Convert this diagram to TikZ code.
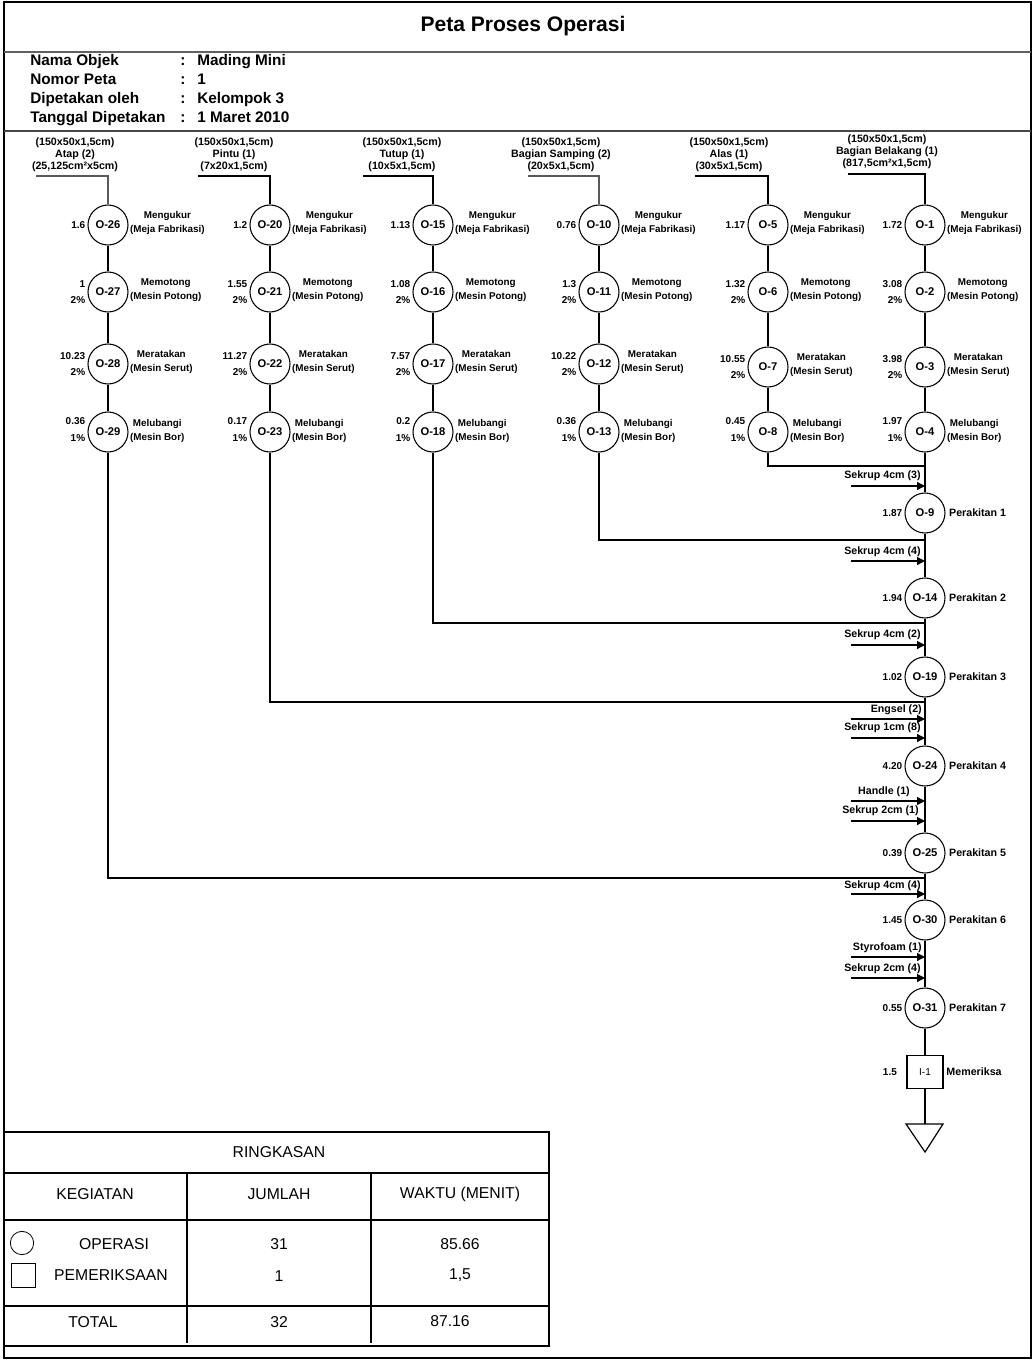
\documentclass[tikz,border=0pt]{standalone}
\usepackage{fontspec}
\setmainfont{Liberation Sans}
\usetikzlibrary{arrows.meta}
\begin{document}
\begin{tikzpicture}[x=0.75pt,y=-0.75pt,
  ln/.style={line width=0.9pt},
  op/.style={circle,draw,line width=0.8pt,minimum size=30pt,inner sep=0pt,font=\fontsize{8.4}{9}\selectfont\bfseries},
  insp/.style={rectangle,draw,line width=0.8pt,minimum width=27pt,minimum height=25pt,inner sep=0pt,font=\fontsize{7.5}{9}\selectfont},
  oplbl/.style={font=\fontsize{7.4}{10.5}\selectfont\bfseries,align=center,inner sep=0pt,anchor=west},
  num/.style={font=\fontsize{7.5}{12.5}\selectfont\bfseries,align=right,inner sep=0pt,anchor=east},
  toplbl/.style={font=\fontsize{8}{9}\selectfont\bfseries,align=center,inner sep=0pt},
  feedlbl/.style={font=\fontsize{8}{9}\selectfont\bfseries,inner sep=0pt,anchor=east},
  asmlbl/.style={font=\fontsize{8}{9}\selectfont\bfseries,inner sep=0pt,anchor=west},
  feed/.style={line width=0.9pt,-{Triangle[length=6pt,width=6pt]}},
  hdr/.style={font=\fontsize{11.5}{13}\selectfont\bfseries,inner sep=0pt,anchor=base west},
  tbltxt/.style={font=\fontsize{11.8}{13}\selectfont,inner sep=0pt},
  tbl/.style={line width=0.8pt}
]
\useasboundingbox (0,0) rectangle (1033,1360);
% frame
\draw[line width=1.5pt] (4,2) rectangle (1031,1358);
\draw[line width=1.6pt,gray!75!black] (4,52) -- (1031,52);
\draw[line width=1.4pt,gray!55!black] (4,131) -- (1031,131);
\node[font=\fontsize{15.8}{18}\selectfont\bfseries] (title) at (523,26) {Peta Proses Operasi};
% header
\node[hdr] (h1) at (30,65.5) {Nama Objek};
\node[hdr] (h2) at (30,84.5) {Nomor Peta};
\node[hdr] (h3) at (30,103.5) {Dipetakan oleh};
\node[hdr] (h4) at (30,122.5) {Tanggal Dipetakan};
\node[hdr] (c1) at (180,65.5) {:};
\node[hdr] (c2) at (180,84.5) {:};
\node[hdr] (c3) at (180,103.5) {:};
\node[hdr] (c4) at (180,122.5) {:};
\node[hdr] (v1) at (197,65.5) {Mading Mini};
\node[hdr] (v2) at (197,84.5) {1};
\node[hdr] (v3) at (197,103.5) {Kelompok 3};
\node[hdr] (v4) at (197,122.5) {1 Maret 2010};
% columns
\foreach \X/\p/\q/\r/\s/\tp/\tq/\tr/\ts/\yr in {
 108/26/27/28/29/1.6/1/10.23/0.36/364,
 270/20/21/22/23/1.2/1.55/11.27/0.17/364,
 433/15/16/17/18/1.13/1.08/7.57/0.2/364,
 599/10/11/12/13/0.76/1.3/10.22/0.36/364,
 768/5/6/7/8/1.17/1.32/10.55/0.45/367,
 925/1/2/3/4/1.72/3.08/3.98/1.97/367}
{
 \node[op] (O\p) at (\X,225) {O-\p};
 \node[op] (O\q) at (\X,292) {O-\q};
 \node[op] (O\r) at (\X,\yr) {O-\r};
 \node[op] (O\s) at (\X,432) {O-\s};
 \draw[ln] (O\p) -- (O\q) -- (O\r) -- (O\s);
 \node[num] (t\p) at ([xshift=-1.5pt]O\p.west) {\tp};
 \node[num] (t\q) at ([xshift=-1.5pt]O\q.west) {\tq\\2\%};
 \node[num] (t\r) at ([xshift=-1.5pt]O\r.west) {\tr\\2\%};
 \node[num] (t\s) at ([xshift=-1.5pt,yshift=2pt]O\s.west) {\ts\\1\%};
 \node[oplbl] (l\p) at ([xshift=1pt,yshift=1.2pt]O\p.east) {Mengukur\\(Meja Fabrikasi)};
 \node[oplbl] (l\q) at ([xshift=1pt,yshift=1.2pt]O\q.east) {Memotong\\(Mesin Potong)};
 \node[oplbl] (l\r) at ([xshift=1pt,yshift=1.5pt]O\r.east) {Meratakan\\(Mesin Serut)};
 \node[oplbl] (l\s) at ([xshift=1pt,yshift=0.6pt]O\s.east) {Melubangi\\(Mesin Bor)};
}
% material labels and input lines
\node[toplbl] (m1) at (75,155) {(150x50x1,5cm)\\Atap (2)\\(25,125cm²x5cm)};
\node[toplbl] (m2) at (234,155) {(150x50x1,5cm)\\Pintu (1)\\(7x20x1,5cm)};
\node[toplbl] (m3) at (402,155) {(150x50x1,5cm)\\Tutup (1)\\(10x5x1,5cm)};
\node[toplbl] (m4) at (561,155) {(150x50x1,5cm)\\Bagian Samping (2)\\(20x5x1,5cm)};
\node[toplbl] (m5) at (729,155) {(150x50x1,5cm)\\Alas (1)\\(30x5x1,5cm)};
\node[toplbl] (m6) at (887,152) {(150x50x1,5cm)\\Bagian Belakang (1)\\(817,5cm²x1,5cm)};
\coordinate (s1) at (36,176);  \coordinate (k1) at (108,176);
\coordinate (s2) at (198,176); \coordinate (k2) at (270,176);
\coordinate (s3) at (363,176); \coordinate (k3) at (433,176);
\coordinate (s4) at (528,176); \coordinate (k4) at (599,176);
\coordinate (s5) at (695,176); \coordinate (k5) at (768,176);
\coordinate (s6) at (848,174); \coordinate (k6) at (925,174);
\draw[ln,gray!70!black] (s1) -- (k1) -- (O26);
\draw[ln] (s2) -- (k2) -- (O20);
\draw[ln] (s3) -- (k3) -- (O15);
\draw[ln,gray!70!black] (s4) -- (k4) -- (O10);
\draw[ln] (s5) -- (k5) -- (O5);
\draw[ln] (s6) -- (k6) -- (O1);
% assembly line
\node[op] (O9) at (925,513) {O-9};
\node[op] (O14) at (925,598) {O-14};
\node[op] (O19) at (925,677) {O-19};
\node[op] (O24) at (925,766) {O-24};
\node[op] (O25) at (925,853) {O-25};
\node[op] (O30) at (925,920) {O-30};
\node[op] (O31) at (925,1008) {O-31};
\node[insp] (I1) at (925,1072) {I-1};
\coordinate (tri) at (925,1124);
\draw[ln] (O4) -- (O9) -- (O14) -- (O19) -- (O24) -- (O25) -- (O30) -- (O31) -- (I1) -- (tri);
\draw[ln] (906,1124) -- (943,1124) -- (925,1152) -- cycle;
\foreach \n/\v in {9/1.87,14/1.94,19/1.02,24/4.20,25/0.39,30/1.45,31/0.55}
  \node[num] (t\n) at ([xshift=-1.5pt]O\n.west) {\v};
\node[num] (t1i) at ([xshift=-7pt]I1.west) {1.5};
\node[asmlbl] (a9) at ([xshift=2.5pt]O9.east) {Perakitan 1};
\node[asmlbl] (a14) at ([xshift=2.5pt]O14.east) {Perakitan 2};
\node[asmlbl] (a19) at ([xshift=2.5pt]O19.east) {Perakitan 3};
\node[asmlbl] (a24) at ([xshift=2.5pt]O24.east) {Perakitan 4};
\node[asmlbl] (a25) at ([xshift=2.5pt]O25.east) {Perakitan 5};
\node[asmlbl] (a30) at ([xshift=2.5pt]O30.east) {Perakitan 6};
\node[asmlbl] (a31) at ([xshift=2.5pt]O31.east) {Perakitan 7};
\node[asmlbl] (aI) at ([xshift=2pt]I1.east) {Memeriksa};
% sub-assembly joins
\coordinate (j5) at (925,466);
\coordinate (j4) at (925,540);
\coordinate (j3) at (925,623);
\coordinate (j2) at (925,702);
\coordinate (j1) at (925,878);
\draw[ln] (O8) |- (j5);
\draw[ln] (O13) |- (j4);
\draw[ln] (O18) |- (j3);
\draw[ln] (O23) |- (j2);
\draw[ln] (O29) |- (j1);
% feed arrows
\foreach \i/\y/\ly/\lx/\txt in {
  1/486/476/921/Sekrup 4cm (3),
  2/561/552/921/Sekrup 4cm (4),
  3/645/635/921/Sekrup 4cm (2),
  4/719/710/922/Engsel (2),
  5/738/728/921/Sekrup 1cm (8),
  6/801/792/910/Handle (1),
  7/821/811/919/Sekrup 2cm (1),
  8/894/886/921/Sekrup 4cm (4),
  9/957/948/922/Styrofoam (1),
  10/978/969/921/Sekrup 2cm (4)}
{
  \coordinate (f\i) at (851,\y);
  \coordinate (e\i) at (925,\y);
  \draw[feed] (f\i) -- (e\i);
  \node[feedlbl] (fl\i) at (\lx,\ly) {\txt};
}
% summary table
\draw[tbl] (4,1132) -- (549,1132) -- (549,1346) -- (4,1346);
\draw[tbl] (4,1173) -- (549,1173);
\draw[tbl] (4,1220) -- (549,1220);
\draw[tbl] (4,1306) -- (549,1306);
\draw[tbl] (187,1173) -- (187,1343);
\draw[tbl] (371,1173) -- (371,1343);
\node[tbltxt] (r0) at (279,1152) {RINGKASAN};
\node[tbltxt] (r1) at (95,1194) {KEGIATAN};
\node[tbltxt] (r2) at (279,1194) {JUMLAH};
\node[tbltxt] (r3) at (460,1194) {WAKTU (MENIT)};
\node[circle,draw,line width=0.6pt,minimum size=17.5pt,inner sep=0pt] (lgO) at (22,1243) {};
\node[rectangle,draw,line width=0.6pt,minimum size=18pt,inner sep=0pt] (lgI) at (23,1275) {};
\node[tbltxt] (r4) at (114,1244) {OPERASI};
\node[tbltxt] (r5) at (111,1275) {PEMERIKSAAN};
\node[tbltxt] (r6) at (279,1244) {31};
\node[tbltxt] (r7) at (279,1276) {1};
\node[tbltxt] (r8) at (460,1244) {85.66};
\node[tbltxt] (r9) at (460,1275) {1,5};
\node[tbltxt] (r10) at (93,1322) {TOTAL};
\node[tbltxt] (r11) at (279,1322) {32};
\node[tbltxt] (r12) at (450,1321) {87.16};
\end{tikzpicture}
\end{document}
